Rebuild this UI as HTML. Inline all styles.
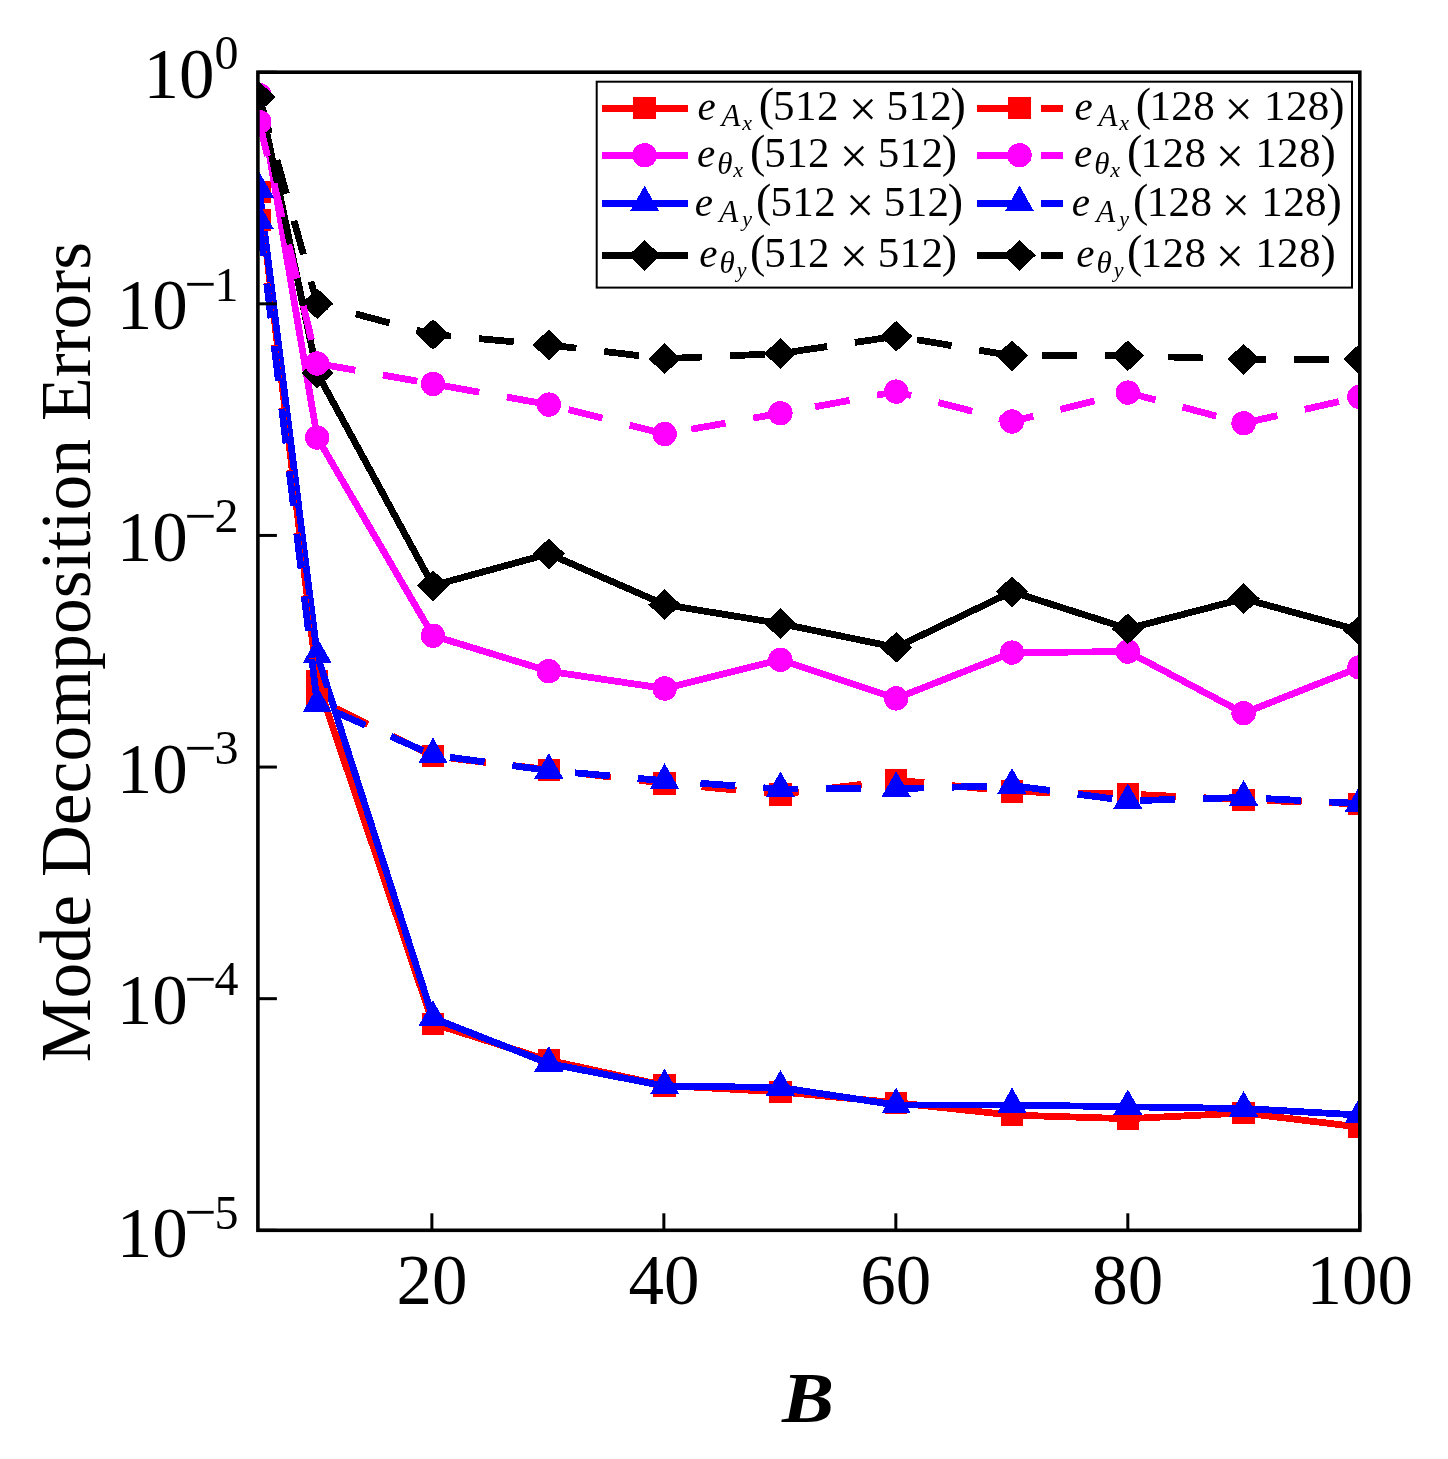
<!DOCTYPE html>
<html><head><meta charset="utf-8"><title>Mode Decomposition Errors</title>
<style>html,body{margin:0;padding:0;background:#fff;overflow:hidden;width:1448px;height:1459px;}svg{display:block;}</style></head>
<body><svg width="1448" height="1459" viewBox="0 0 1448 1459">
<rect x="0" y="0" width="1448" height="1459" fill="#fff"/>
<defs><clipPath id="ax"><rect x="257.9" y="72.2" width="1101.9" height="1158.1"/></clipPath></defs>
<g clip-path="url(#ax)" shape-rendering="crispEdges">
<polyline points="259.30,192.00 317.20,681.00 433.00,1023.70 548.80,1060.30 664.60,1085.50 780.40,1091.90 896.20,1102.70 1012.00,1115.10 1127.80,1118.70 1243.60,1113.00 1359.40,1127.00" fill="none" stroke="#ff0000" stroke-width="6.8" stroke-linejoin="round"/>
<rect x="248.10" y="180.80" width="22.40" height="22.40" fill="#ff0000"/>
<rect x="306.00" y="669.80" width="22.40" height="22.40" fill="#ff0000"/>
<rect x="421.80" y="1012.50" width="22.40" height="22.40" fill="#ff0000"/>
<rect x="537.60" y="1049.10" width="22.40" height="22.40" fill="#ff0000"/>
<rect x="653.40" y="1074.30" width="22.40" height="22.40" fill="#ff0000"/>
<rect x="769.20" y="1080.70" width="22.40" height="22.40" fill="#ff0000"/>
<rect x="885.00" y="1091.50" width="22.40" height="22.40" fill="#ff0000"/>
<rect x="1000.80" y="1103.90" width="22.40" height="22.40" fill="#ff0000"/>
<rect x="1116.60" y="1107.50" width="22.40" height="22.40" fill="#ff0000"/>
<rect x="1232.40" y="1101.80" width="22.40" height="22.40" fill="#ff0000"/>
<rect x="1348.20" y="1115.80" width="22.40" height="22.40" fill="#ff0000"/>
<polyline points="259.30,95.00 317.20,437.50 433.00,635.70 548.80,671.20 664.60,688.50 780.40,659.80 896.20,698.40 1012.00,652.60 1127.80,651.60 1243.60,713.20 1359.40,667.40" fill="none" stroke="#ff00ff" stroke-width="6.8" stroke-linejoin="round"/>
<circle cx="259.30" cy="95.00" r="12.2" fill="#ff00ff"/>
<circle cx="317.20" cy="437.50" r="12.2" fill="#ff00ff"/>
<circle cx="433.00" cy="635.70" r="12.2" fill="#ff00ff"/>
<circle cx="548.80" cy="671.20" r="12.2" fill="#ff00ff"/>
<circle cx="664.60" cy="688.50" r="12.2" fill="#ff00ff"/>
<circle cx="780.40" cy="659.80" r="12.2" fill="#ff00ff"/>
<circle cx="896.20" cy="698.40" r="12.2" fill="#ff00ff"/>
<circle cx="1012.00" cy="652.60" r="12.2" fill="#ff00ff"/>
<circle cx="1127.80" cy="651.60" r="12.2" fill="#ff00ff"/>
<circle cx="1243.60" cy="713.20" r="12.2" fill="#ff00ff"/>
<circle cx="1359.40" cy="667.40" r="12.2" fill="#ff00ff"/>
<polyline points="259.30,189.50 317.20,655.00 433.00,1018.00 548.80,1063.50 664.60,1086.00 780.40,1087.50 896.20,1105.00 1012.00,1105.00 1127.80,1106.80 1243.60,1108.50 1359.40,1115.00" fill="none" stroke="#0000ff" stroke-width="6.8" stroke-linejoin="round"/>
<polygon points="259.30,172.00 273.80,197.50 244.80,197.50" fill="#0000ff"/>
<polygon points="317.20,637.50 331.70,663.00 302.70,663.00" fill="#0000ff"/>
<polygon points="433.00,1000.50 447.50,1026.00 418.50,1026.00" fill="#0000ff"/>
<polygon points="548.80,1046.00 563.30,1071.50 534.30,1071.50" fill="#0000ff"/>
<polygon points="664.60,1068.50 679.10,1094.00 650.10,1094.00" fill="#0000ff"/>
<polygon points="780.40,1070.00 794.90,1095.50 765.90,1095.50" fill="#0000ff"/>
<polygon points="896.20,1087.50 910.70,1113.00 881.70,1113.00" fill="#0000ff"/>
<polygon points="1012.00,1087.50 1026.50,1113.00 997.50,1113.00" fill="#0000ff"/>
<polygon points="1127.80,1089.30 1142.30,1114.80 1113.30,1114.80" fill="#0000ff"/>
<polygon points="1243.60,1091.00 1258.10,1116.50 1229.10,1116.50" fill="#0000ff"/>
<polygon points="1359.40,1097.50 1373.90,1123.00 1344.90,1123.00" fill="#0000ff"/>
<polyline points="259.30,97.00 317.20,373.00 433.00,585.60 548.80,553.80 664.60,604.60 780.40,623.60 896.20,647.40 1012.00,591.70 1127.80,628.70 1243.60,598.70 1359.40,630.40" fill="none" stroke="#000000" stroke-width="6.8" stroke-linejoin="round"/>
<polygon points="259.30,81.60 275.50,97.00 259.30,112.40 243.10,97.00" fill="#000000"/>
<polygon points="317.20,357.60 333.40,373.00 317.20,388.40 301.00,373.00" fill="#000000"/>
<polygon points="433.00,570.20 449.20,585.60 433.00,601.00 416.80,585.60" fill="#000000"/>
<polygon points="548.80,538.40 565.00,553.80 548.80,569.20 532.60,553.80" fill="#000000"/>
<polygon points="664.60,589.20 680.80,604.60 664.60,620.00 648.40,604.60" fill="#000000"/>
<polygon points="780.40,608.20 796.60,623.60 780.40,639.00 764.20,623.60" fill="#000000"/>
<polygon points="896.20,632.00 912.40,647.40 896.20,662.80 880.00,647.40" fill="#000000"/>
<polygon points="1012.00,576.30 1028.20,591.70 1012.00,607.10 995.80,591.70" fill="#000000"/>
<polygon points="1127.80,613.30 1144.00,628.70 1127.80,644.10 1111.60,628.70" fill="#000000"/>
<polygon points="1243.60,583.30 1259.80,598.70 1243.60,614.10 1227.40,598.70" fill="#000000"/>
<polygon points="1359.40,615.00 1375.60,630.40 1359.40,645.80 1343.20,630.40" fill="#000000"/>
<polyline points="259.30,220.00 317.20,699.00 433.00,756.20 548.80,769.70 664.60,783.30 780.40,794.30 896.20,780.10 1012.00,791.60 1127.80,794.00 1243.60,799.80 1359.40,803.80" fill="none" stroke="#ff0000" stroke-width="6.8" stroke-linejoin="round" stroke-dasharray="35 28" stroke-dashoffset="0"/>
<rect x="248.10" y="208.80" width="22.40" height="22.40" fill="#ff0000"/>
<rect x="306.00" y="687.80" width="22.40" height="22.40" fill="#ff0000"/>
<rect x="421.80" y="745.00" width="22.40" height="22.40" fill="#ff0000"/>
<rect x="537.60" y="758.50" width="22.40" height="22.40" fill="#ff0000"/>
<rect x="653.40" y="772.10" width="22.40" height="22.40" fill="#ff0000"/>
<rect x="769.20" y="783.10" width="22.40" height="22.40" fill="#ff0000"/>
<rect x="885.00" y="768.90" width="22.40" height="22.40" fill="#ff0000"/>
<rect x="1000.80" y="780.40" width="22.40" height="22.40" fill="#ff0000"/>
<rect x="1116.60" y="782.80" width="22.40" height="22.40" fill="#ff0000"/>
<rect x="1232.40" y="788.60" width="22.40" height="22.40" fill="#ff0000"/>
<rect x="1348.20" y="792.60" width="22.40" height="22.40" fill="#ff0000"/>
<polyline points="259.30,221.00 317.20,704.00 433.00,755.00 548.80,770.50 664.60,780.70 780.40,789.00 896.20,788.70 1012.00,785.50 1127.80,800.80 1243.60,797.50 1359.40,803.50" fill="none" stroke="#0000ff" stroke-width="6.8" stroke-linejoin="round" stroke-dasharray="35 28" stroke-dashoffset="0"/>
<polygon points="259.30,203.50 273.80,229.00 244.80,229.00" fill="#0000ff"/>
<polygon points="317.20,686.50 331.70,712.00 302.70,712.00" fill="#0000ff"/>
<polygon points="433.00,737.50 447.50,763.00 418.50,763.00" fill="#0000ff"/>
<polygon points="548.80,753.00 563.30,778.50 534.30,778.50" fill="#0000ff"/>
<polygon points="664.60,763.20 679.10,788.70 650.10,788.70" fill="#0000ff"/>
<polygon points="780.40,771.50 794.90,797.00 765.90,797.00" fill="#0000ff"/>
<polygon points="896.20,771.20 910.70,796.70 881.70,796.70" fill="#0000ff"/>
<polygon points="1012.00,768.00 1026.50,793.50 997.50,793.50" fill="#0000ff"/>
<polygon points="1127.80,783.30 1142.30,808.80 1113.30,808.80" fill="#0000ff"/>
<polygon points="1243.60,780.00 1258.10,805.50 1229.10,805.50" fill="#0000ff"/>
<polygon points="1359.40,786.00 1373.90,811.50 1344.90,811.50" fill="#0000ff"/>
<polyline points="259.30,97.00 317.20,303.70 433.00,334.50 548.80,344.90 664.60,358.70 780.40,353.50 896.20,336.30 1012.00,355.70 1127.80,355.70 1243.60,359.20 1359.40,359.20" fill="none" stroke="#000000" stroke-width="6.8" stroke-linejoin="round" stroke-dasharray="35 28" stroke-dashoffset="-2.5"/>
<polygon points="259.30,81.60 275.50,97.00 259.30,112.40 243.10,97.00" fill="#000000"/>
<polygon points="317.20,288.30 333.40,303.70 317.20,319.10 301.00,303.70" fill="#000000"/>
<polygon points="433.00,319.10 449.20,334.50 433.00,349.90 416.80,334.50" fill="#000000"/>
<polygon points="548.80,329.50 565.00,344.90 548.80,360.30 532.60,344.90" fill="#000000"/>
<polygon points="664.60,343.30 680.80,358.70 664.60,374.10 648.40,358.70" fill="#000000"/>
<polygon points="780.40,338.10 796.60,353.50 780.40,368.90 764.20,353.50" fill="#000000"/>
<polygon points="896.20,320.90 912.40,336.30 896.20,351.70 880.00,336.30" fill="#000000"/>
<polygon points="1012.00,340.30 1028.20,355.70 1012.00,371.10 995.80,355.70" fill="#000000"/>
<polygon points="1127.80,340.30 1144.00,355.70 1127.80,371.10 1111.60,355.70" fill="#000000"/>
<polygon points="1243.60,343.80 1259.80,359.20 1243.60,374.60 1227.40,359.20" fill="#000000"/>
<polygon points="1359.40,343.80 1375.60,359.20 1359.40,374.60 1343.20,359.20" fill="#000000"/>
<polyline points="259.30,122.00 317.20,363.50 433.00,383.90 548.80,404.60 664.60,434.00 780.40,413.30 896.20,391.60 1012.00,421.50 1127.80,392.60 1243.60,423.30 1359.40,396.90" fill="none" stroke="#ff00ff" stroke-width="6.8" stroke-linejoin="round" stroke-dasharray="35 28" stroke-dashoffset="0"/>
<circle cx="259.30" cy="122.00" r="12.2" fill="#ff00ff"/>
<circle cx="317.20" cy="363.50" r="12.2" fill="#ff00ff"/>
<circle cx="433.00" cy="383.90" r="12.2" fill="#ff00ff"/>
<circle cx="548.80" cy="404.60" r="12.2" fill="#ff00ff"/>
<circle cx="664.60" cy="434.00" r="12.2" fill="#ff00ff"/>
<circle cx="780.40" cy="413.30" r="12.2" fill="#ff00ff"/>
<circle cx="896.20" cy="391.60" r="12.2" fill="#ff00ff"/>
<circle cx="1012.00" cy="421.50" r="12.2" fill="#ff00ff"/>
<circle cx="1127.80" cy="392.60" r="12.2" fill="#ff00ff"/>
<circle cx="1243.60" cy="423.30" r="12.2" fill="#ff00ff"/>
<circle cx="1359.40" cy="396.90" r="12.2" fill="#ff00ff"/>
</g>
<line x1="257.9" y1="72.20" x2="276.9" y2="72.20" stroke="#000" stroke-width="3"/>
<line x1="257.9" y1="303.82" x2="276.9" y2="303.82" stroke="#000" stroke-width="3"/>
<line x1="257.9" y1="535.44" x2="276.9" y2="535.44" stroke="#000" stroke-width="3"/>
<line x1="257.9" y1="767.06" x2="276.9" y2="767.06" stroke="#000" stroke-width="3"/>
<line x1="257.9" y1="998.68" x2="276.9" y2="998.68" stroke="#000" stroke-width="3"/>
<line x1="257.9" y1="1230.30" x2="276.9" y2="1230.30" stroke="#000" stroke-width="3"/>
<line x1="431.88" y1="1230.3" x2="431.88" y2="1213.3" stroke="#000" stroke-width="3"/>
<line x1="663.86" y1="1230.3" x2="663.86" y2="1213.3" stroke="#000" stroke-width="3"/>
<line x1="895.84" y1="1230.3" x2="895.84" y2="1213.3" stroke="#000" stroke-width="3"/>
<line x1="1127.82" y1="1230.3" x2="1127.82" y2="1213.3" stroke="#000" stroke-width="3"/>
<line x1="1359.80" y1="1230.3" x2="1359.80" y2="1213.3" stroke="#000" stroke-width="3"/>
<rect x="257.9" y="72.2" width="1101.9" height="1158.1" fill="none" stroke="#000" stroke-width="3.6"/>
<g font-family="Liberation Serif, serif" fill="#000"><text x="238.4" y="97.7" text-anchor="end" font-size="71">10<tspan font-size="48" dy="-28.7">0</tspan></text>
<text x="238.4" y="329.3" text-anchor="end" font-size="71">10<tspan font-size="57" dx="-3.5" dy="-25.9">−</tspan><tspan font-size="48" dx="-2" dy="-2.8">1</tspan></text>
<text x="238.4" y="560.9" text-anchor="end" font-size="71">10<tspan font-size="57" dx="-3.5" dy="-25.9">−</tspan><tspan font-size="48" dx="-2" dy="-2.8">2</tspan></text>
<text x="238.4" y="792.6" text-anchor="end" font-size="71">10<tspan font-size="57" dx="-3.5" dy="-25.9">−</tspan><tspan font-size="48" dx="-2" dy="-2.8">3</tspan></text>
<text x="238.4" y="1024.2" text-anchor="end" font-size="71">10<tspan font-size="57" dx="-3.5" dy="-25.9">−</tspan><tspan font-size="48" dx="-2" dy="-2.8">4</tspan></text>
<text x="238.4" y="1257.3" text-anchor="end" font-size="71">10<tspan font-size="57" dx="-3.5" dy="-25.9">−</tspan><tspan font-size="48" dx="-2" dy="-2.8">5</tspan></text>
<text x="431.9" y="1304" text-anchor="middle" font-size="71">20</text>
<text x="663.9" y="1304" text-anchor="middle" font-size="71">40</text>
<text x="895.8" y="1304" text-anchor="middle" font-size="71">60</text>
<text x="1127.8" y="1304" text-anchor="middle" font-size="71">80</text>
<text x="1359.8" y="1304" text-anchor="middle" font-size="71">100</text></g>
<text transform="translate(808,1421.5) scale(1.09,1)" text-anchor="middle" font-family="Liberation Serif, serif" font-size="71.5" font-weight="bold" font-style="italic">B</text>
<text transform="translate(90.3,652) rotate(-90)" text-anchor="middle" font-family="Liberation Serif, serif" font-size="71.7">Mode Decomposition Errors</text>
<rect x="596.7" y="81.7" width="755.3" height="205.9" fill="#fff" stroke="#000" stroke-width="2"/>
<g shape-rendering="crispEdges">
<line x1="602.1" y1="108.2" x2="688.4" y2="108.2" stroke="#ff0000" stroke-width="6.8"/>
<rect x="633.40" y="97.00" width="22.40" height="22.40" fill="#ff0000"/>
<line x1="602.1" y1="155.3" x2="688.4" y2="155.3" stroke="#ff00ff" stroke-width="6.8"/>
<circle cx="644.60" cy="155.30" r="12.2" fill="#ff00ff"/>
<line x1="602.1" y1="203.2" x2="688.4" y2="203.2" stroke="#0000ff" stroke-width="6.8"/>
<polygon points="644.60,185.70 659.10,211.20 630.10,211.20" fill="#0000ff"/>
<line x1="602.1" y1="255.4" x2="688.4" y2="255.4" stroke="#000000" stroke-width="6.8"/>
<polygon points="644.60,240.00 660.80,255.40 644.60,270.80 628.40,255.40" fill="#000000"/>
<line x1="977.0" y1="108.2" x2="1063.3" y2="108.2" stroke="#ff0000" stroke-width="6.8" stroke-dasharray="36 27.7"/>
<rect x="1008.30" y="97.00" width="22.40" height="22.40" fill="#ff0000"/>
<line x1="977.0" y1="155.3" x2="1063.3" y2="155.3" stroke="#ff00ff" stroke-width="6.8" stroke-dasharray="36 27.7"/>
<circle cx="1019.50" cy="155.30" r="12.2" fill="#ff00ff"/>
<line x1="977.0" y1="203.2" x2="1063.3" y2="203.2" stroke="#0000ff" stroke-width="6.8" stroke-dasharray="36 27.7"/>
<polygon points="1019.50,185.70 1034.00,211.20 1005.00,211.20" fill="#0000ff"/>
<line x1="977.0" y1="255.4" x2="1063.3" y2="255.4" stroke="#000000" stroke-width="6.8" stroke-dasharray="36 27.7"/>
<polygon points="1019.50,240.00 1035.70,255.40 1019.50,270.80 1003.30,255.40" fill="#000000"/>
</g>
<g font-family="Liberation Serif, serif" fill="#000">
<text x="697.54" y="119.60" font-size="41" font-style="italic">e</text>
<text x="721.50" y="125.90" font-size="31" font-style="italic">A</text>
<text x="742.27" y="129.60" font-size="22" font-style="italic">x</text>
<text x="758.68" y="119.60" font-size="46">(</text>
<text x="773.10" y="119.60" font-size="43" letter-spacing="0.4">512</text>
<text x="848.64" y="125.70" font-size="50">×</text>
<text x="886.50" y="119.60" font-size="43" letter-spacing="0.4">512</text>
<text x="950.52" y="119.60" font-size="46">)</text>
<text x="697.04" y="167.30" font-size="41" font-style="italic">e</text>
<text x="717.19" y="173.60" font-size="31" font-style="italic">θ</text>
<text x="733.27" y="177.30" font-size="22" font-style="italic">x</text>
<text x="749.88" y="167.30" font-size="46">(</text>
<text x="764.30" y="167.30" font-size="43" letter-spacing="0.4">512</text>
<text x="839.84" y="173.40" font-size="50">×</text>
<text x="877.70" y="167.30" font-size="43" letter-spacing="0.4">512</text>
<text x="941.72" y="167.30" font-size="46">)</text>
<text x="694.74" y="215.50" font-size="41" font-style="italic">e</text>
<text x="719.30" y="221.80" font-size="31" font-style="italic">A</text>
<text x="742.14" y="225.50" font-size="22" font-style="italic">y</text>
<text x="755.98" y="215.50" font-size="46">(</text>
<text x="770.40" y="215.50" font-size="43" letter-spacing="0.4">512</text>
<text x="845.94" y="221.60" font-size="50">×</text>
<text x="883.80" y="215.50" font-size="43" letter-spacing="0.4">512</text>
<text x="947.82" y="215.50" font-size="46">)</text>
<text x="699.24" y="266.70" font-size="41" font-style="italic">e</text>
<text x="719.49" y="273.00" font-size="31" font-style="italic">θ</text>
<text x="736.64" y="276.70" font-size="22" font-style="italic">y</text>
<text x="749.88" y="266.70" font-size="46">(</text>
<text x="764.30" y="266.70" font-size="43" letter-spacing="0.4">512</text>
<text x="839.84" y="272.80" font-size="50">×</text>
<text x="877.70" y="266.70" font-size="43" letter-spacing="0.4">512</text>
<text x="941.72" y="266.70" font-size="46">)</text>
<text x="1074.54" y="119.60" font-size="41" font-style="italic">e</text>
<text x="1098.50" y="125.90" font-size="31" font-style="italic">A</text>
<text x="1119.27" y="129.60" font-size="22" font-style="italic">x</text>
<text x="1135.68" y="119.60" font-size="46">(</text>
<text x="1149.42" y="119.60" font-size="43" letter-spacing="0.4">128</text>
<text x="1224.54" y="125.70" font-size="50">×</text>
<text x="1264.02" y="119.60" font-size="43" letter-spacing="0.4">128</text>
<text x="1329.32" y="119.60" font-size="46">)</text>
<text x="1074.04" y="167.30" font-size="41" font-style="italic">e</text>
<text x="1094.19" y="173.60" font-size="31" font-style="italic">θ</text>
<text x="1110.27" y="177.30" font-size="22" font-style="italic">x</text>
<text x="1126.88" y="167.30" font-size="46">(</text>
<text x="1140.62" y="167.30" font-size="43" letter-spacing="0.4">128</text>
<text x="1215.74" y="173.40" font-size="50">×</text>
<text x="1255.22" y="167.30" font-size="43" letter-spacing="0.4">128</text>
<text x="1320.52" y="167.30" font-size="46">)</text>
<text x="1071.74" y="215.50" font-size="41" font-style="italic">e</text>
<text x="1096.30" y="221.80" font-size="31" font-style="italic">A</text>
<text x="1119.14" y="225.50" font-size="22" font-style="italic">y</text>
<text x="1132.98" y="215.50" font-size="46">(</text>
<text x="1146.72" y="215.50" font-size="43" letter-spacing="0.4">128</text>
<text x="1221.84" y="221.60" font-size="50">×</text>
<text x="1261.32" y="215.50" font-size="43" letter-spacing="0.4">128</text>
<text x="1326.62" y="215.50" font-size="46">)</text>
<text x="1076.24" y="266.70" font-size="41" font-style="italic">e</text>
<text x="1096.49" y="273.00" font-size="31" font-style="italic">θ</text>
<text x="1113.64" y="276.70" font-size="22" font-style="italic">y</text>
<text x="1126.88" y="266.70" font-size="46">(</text>
<text x="1140.62" y="266.70" font-size="43" letter-spacing="0.4">128</text>
<text x="1215.74" y="272.80" font-size="50">×</text>
<text x="1255.22" y="266.70" font-size="43" letter-spacing="0.4">128</text>
<text x="1320.52" y="266.70" font-size="46">)</text>
</g>
</svg></body></html>
